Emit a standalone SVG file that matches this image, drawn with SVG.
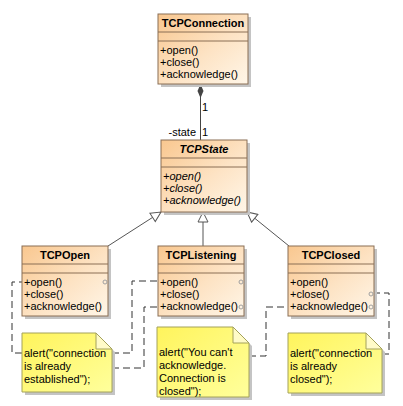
<svg xmlns="http://www.w3.org/2000/svg" width="403" height="406" viewBox="0 0 403 406">
<defs>
<linearGradient id="cls" x1="0" y1="0" x2="1" y2="1">
<stop offset="0" stop-color="#f9c78f"/>
<stop offset="0.55" stop-color="#fde3c4"/>
<stop offset="1" stop-color="#fff6e8"/>
</linearGradient>
<linearGradient id="note" x1="0" y1="0" x2="1" y2="1">
<stop offset="0" stop-color="#fff45c"/>
<stop offset="1" stop-color="#ffff9c"/>
</linearGradient>
<marker id="tri" viewBox="0 0 12 12" refX="11" refY="6" markerWidth="12" markerHeight="12" markerUnits="userSpaceOnUse" orient="auto">
<path d="M1,1 L11,6 L1,11 Z" fill="#ffffff" stroke="#555555" stroke-width="1"/>
</marker>
<marker id="dot" viewBox="0 0 8 8" refX="4" refY="4" markerWidth="7" markerHeight="7" markerUnits="userSpaceOnUse">
<circle cx="4" cy="4" r="3.5" fill="#333333"/>
</marker>
</defs>
<style>
.box{fill:url(#cls);stroke:#8a6e55;stroke-width:1}
.shadow{fill:#c4c4c4}
.div{stroke:#8a6e55;stroke-width:1}
.title{font-family:"Liberation Sans",Arial,sans-serif;font-size:11px;font-weight:bold;text-anchor:middle;fill:#000}
.op{font-family:"Liberation Sans",Arial,sans-serif;font-size:11px;fill:#000}
.it{font-style:italic}
.lbl{font-family:"Liberation Sans",Arial,sans-serif;font-size:11px;fill:#000}
.nt{fill:url(#note);stroke:#a4a25a;stroke-width:1}
.fold{fill:#fffbc8;stroke:#a4a25a;stroke-width:1}
.gen{fill:none;stroke:#555555;stroke-width:1;marker-end:url(#tri)}
.dash{fill:none;stroke:#333333;stroke-width:1;stroke-dasharray:7,4}
.anc{fill:none;stroke:#a0a0a0;stroke-width:1}
</style>

<g id="connectors">
<line x1="200.5" y1="84" x2="200.5" y2="140" stroke="#444" stroke-width="1"/>
<path d="M200.5,84 L203.5,91 L200.5,98 L197.5,91 Z" fill="#444"/>
<text class="lbl" x="202" y="111">1</text>
<text class="lbl" x="196" y="136" text-anchor="end">-state</text>
<text class="lbl" x="202" y="136">1</text>
<path class="gen" d="M108,246 L161,212"/>
<path class="gen" d="M203,246 L203,212"/>
<path class="gen" d="M289,246 L247,212"/>
<path class="dash" d="M22,353 L12,353 L12,282 L25,282" marker-end="url(#dot)"/>
<path class="dash" d="M112,353 L132,353 L132,281 L158,281"/>
<path class="dash" d="M112,368 L144,368 L144,307 L158,307"/>
<path class="dash" d="M249,356 L266,356 L266,307 L288,307"/>
<path class="dash" d="M382,354 L389,354 L389,293 L374,293"/>
</g>

<g id="TCPConnection">
<rect class="shadow" x="161" y="17" width="90" height="70"/>
<rect class="box" x="158" y="14" width="90" height="70"/>
<line class="div" x1="158" y1="32" x2="248" y2="32"/>
<line class="div" x1="158" y1="41" x2="248" y2="41"/>
<text class="title" x="203" y="27">TCPConnection</text>
<text class="op" x="160" y="54">+open()</text>
<text class="op" x="160" y="66">+close()</text>
<text class="op" x="160" y="78">+acknowledge()</text>
</g>

<g id="TCPState">
<rect class="shadow" x="164" y="143" width="86" height="72"/>
<rect class="box" x="161" y="140" width="86" height="72"/>
<line class="div" x1="161" y1="158" x2="247" y2="158"/>
<line class="div" x1="161" y1="167" x2="247" y2="167"/>
<text class="title it" x="204" y="153">TCPState</text>
<text class="op it" x="163" y="180">+open()</text>
<text class="op it" x="163" y="192">+close()</text>
<text class="op it" x="163" y="204">+acknowledge()</text>
</g>

<g id="TCPOpen">
<rect class="shadow" x="25" y="249" width="86" height="70"/>
<rect class="box" x="22" y="246" width="86" height="70"/>
<line class="div" x1="22" y1="264" x2="108" y2="264"/>
<line class="div" x1="22" y1="273" x2="108" y2="273"/>
<text class="title" x="65" y="259">TCPOpen</text>
<text class="op" x="24" y="286">+open()</text>
<text class="op" x="24" y="298">+close()</text>
<text class="op" x="24" y="310">+acknowledge()</text>
<circle class="anc" cx="105" cy="282" r="2"/>
</g>

<g id="TCPListening">
<rect class="shadow" x="161" y="249" width="86" height="70"/>
<rect class="box" x="158" y="246" width="86" height="70"/>
<line class="div" x1="158" y1="264" x2="244" y2="264"/>
<line class="div" x1="158" y1="273" x2="244" y2="273"/>
<text class="title" x="201" y="259">TCPListening</text>
<text class="op" x="160" y="286">+open()</text>
<text class="op" x="160" y="298">+close()</text>
<text class="op" x="160" y="310">+acknowledge()</text>
<circle class="anc" cx="241" cy="282" r="2"/>
<circle class="anc" cx="241" cy="307" r="2"/>
</g>

<g id="TCPClosed">
<rect class="shadow" x="291" y="249" width="86" height="70"/>
<rect class="box" x="288" y="246" width="86" height="70"/>
<line class="div" x1="288" y1="264" x2="374" y2="264"/>
<line class="div" x1="288" y1="273" x2="374" y2="273"/>
<text class="title" x="331" y="259">TCPClosed</text>
<text class="op" x="290" y="286">+open()</text>
<text class="op" x="290" y="298">+close()</text>
<text class="op" x="290" y="310">+acknowledge()</text>
<circle class="anc" cx="371" cy="294" r="2"/>
<circle class="anc" cx="371" cy="307" r="2"/>
</g>

<g id="note-open">
<path class="shadow" d="M25,336 L99,336 L115,352 L115,395 L25,395 Z"/>
<path class="nt" d="M22,333 L96,333 L112,349 L112,392 L22,392 Z"/>
<path class="fold" d="M96,333 L96,349 L112,349 Z"/>
<text class="op" x="24" y="357">alert("connection</text>
<text class="op" x="24" y="370">is already</text>
<text class="op" x="24" y="383">established");</text>
</g>

<g id="note-listening">
<path class="shadow" d="M160,330 L236,330 L252,346 L252,400 L160,400 Z"/>
<path class="nt" d="M157,327 L233,327 L249,343 L249,397 L157,397 Z"/>
<path class="fold" d="M233,327 L233,343 L249,343 Z"/>
<text class="op" x="159" y="356">alert("You can't</text>
<text class="op" x="159" y="369">acknowledge.</text>
<text class="op" x="159" y="382">Connection is</text>
<text class="op" x="159" y="395">closed");</text>
</g>

<g id="note-closed">
<path class="shadow" d="M291,336 L369,336 L385,352 L385,396 L291,396 Z"/>
<path class="nt" d="M288,333 L366,333 L382,349 L382,393 L288,393 Z"/>
<path class="fold" d="M366,333 L366,349 L382,349 Z"/>
<text class="op" x="290" y="357">alert("connection</text>
<text class="op" x="290" y="370">is already</text>
<text class="op" x="290" y="383">closed");</text>
</g>
</svg>
